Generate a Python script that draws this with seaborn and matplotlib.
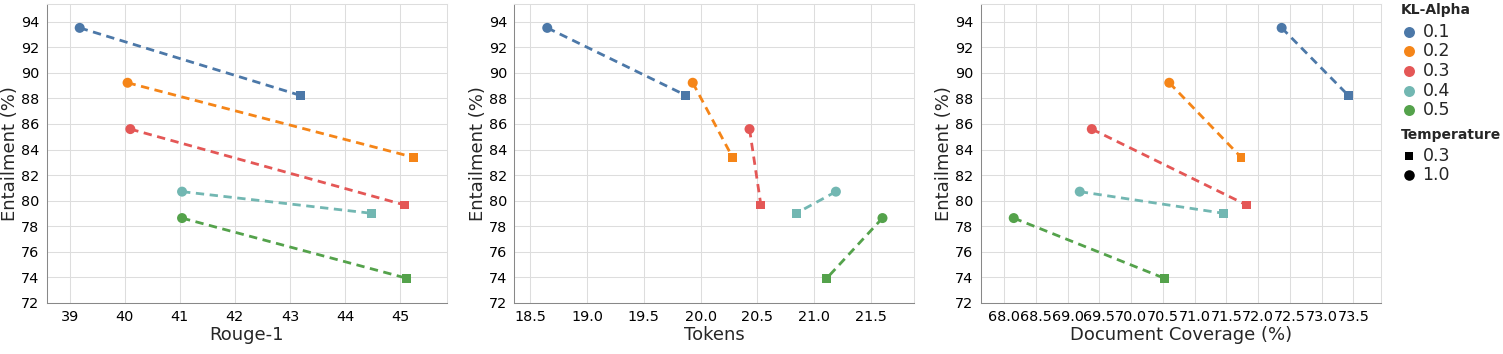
import numpy as np
import pandas as pd
import matplotlib
matplotlib.use("Agg")
import matplotlib.pyplot as plt
from matplotlib.lines import Line2D
import seaborn as sns

# KL-Alpha groups and the two sampling temperatures
kl_alpha = [0.1, 0.2, 0.3, 0.4, 0.5]
temperatures = [1.0, 0.3]

# Entailment (%) per alpha, for temperature 1.0 and 0.3
entail_t10 = [93.53, 89.23, 85.60, 80.70, 78.63]
entail_t03 = [88.24, 83.40, 79.65, 79.00, 73.92]

# x metrics per alpha
rouge_t10 = [39.18, 40.05, 40.10, 41.04, 41.04]
rouge_t03 = [43.19, 45.24, 45.09, 44.49, 45.12]
tokens_t10 = [18.65, 19.93, 20.43, 21.19, 21.60]
tokens_t03 = [19.87, 20.28, 20.53, 20.84, 21.11]
coverage_t10 = [72.37, 70.60, 69.38, 69.19, 68.15]
coverage_t03 = [73.42, 71.73, 71.82, 71.46, 70.52]

y_ticks = list(range(72, 95, 2))
rouge_ticks = [39, 40, 41, 42, 43, 44, 45]
tokens_ticks = [18.5, 19.0, 19.5, 20.0, 20.5, 21.0, 21.5]
coverage_ticks = [68.0, 68.5, 69.0, 69.5, 70.0, 70.5, 71.0, 71.5, 72.0, 72.5, 73.0, 73.5]

palette = {0.1: "#4c78a8", 0.2: "#f58518", 0.3: "#e45756", 0.4: "#72b7b2", 0.5: "#54a24b"}
markers = {0.3: "s", 1.0: "o"}

W, H = 1503.0, 354.0


def build_frame() -> pd.DataFrame:
    rows = []
    for i, a in enumerate(kl_alpha):
        rows.append(dict(alpha=a, temp=1.0, entail=entail_t10[i], rouge=rouge_t10[i],
                         tokens=tokens_t10[i], coverage=coverage_t10[i]))
        rows.append(dict(alpha=a, temp=0.3, entail=entail_t03[i], rouge=rouge_t03[i],
                         tokens=tokens_t03[i], coverage=coverage_t03[i]))
    return pd.DataFrame(rows)


def draw_panel(ax, df, x_col, x_label, ticks, xlim):
    sns.lineplot(data=df, x=x_col, y="entail", hue="alpha", palette=palette,
                 estimator=None, sort=False, legend=False, ax=ax,
                 linewidth=2.0, linestyle=(0, (3, 2)), zorder=2)
    for t in temperatures:
        sub = df[df["temp"] == t]
        sns.scatterplot(data=sub, x=x_col, y="entail", hue="alpha", palette=palette,
                        marker=markers[t], s=52 if t == 1.0 else 40, linewidth=0,
                        legend=False, ax=ax, zorder=3)

    ax.set_xlim(*xlim)
    ax.set_ylim(72, 95.4)
    ax.set_xticks(ticks)
    ax.set_xticklabels([f"{v:g}" if x_col == "rouge" else f"{v:.1f}" for v in ticks])
    ax.set_yticks(y_ticks)
    ax.set_xlabel(x_label, fontsize=13, labelpad=1.5)
    ax.set_ylabel("Entailment (%)", fontsize=13, labelpad=1.5)
    ax.grid(True, color="#dddddd", linewidth=0.75)
    ax.set_axisbelow(True)
    ax.tick_params(axis="both", labelsize=10.4, length=3.6, width=0.75,
                   color="#888888", pad=1.5, labelcolor="black")
    for side in ["left", "bottom"]:
        ax.spines[side].set_color("#888888")
        ax.spines[side].set_linewidth(0.75)
    for side in ["top", "right"]:
        ax.spines[side].set_color("#dddddd")
        ax.spines[side].set_linewidth(0.75)


def fx(px):
    return px / W


def fy(px):
    return 1 - px / H


def legend_block(fig, title, title_base, labels, colors, shapes, sizes, first_y, step):
    fig.text(fx(1401), fy(title_base), title, fontsize=10, fontweight="bold",
             ha="left", va="baseline")
    for i, lab in enumerate(labels):
        y = first_y + step * i
        fig.add_artist(Line2D([fx(1409.3)], [fy(y)], transform=fig.transFigure,
                              marker=shapes[i], markersize=sizes[i], linestyle="",
                              markerfacecolor=colors[i], markeredgewidth=0))
        fig.text(fx(1422.5), fy(y + 5.2), lab, fontsize=12.5, ha="left", va="baseline")


def add_legend(fig):
    legend_block(fig, "KL-Alpha", 14.0, [str(a) for a in kl_alpha],
                 [palette[a] for a in kl_alpha], ["o"] * 5, [7.9] * 5, 31.6, 19.65)
    legend_block(fig, "Temperature", 139.3, ["0.3", "1.0"], ["black", "black"],
                 [markers[0.3], markers[1.0]], [5.5, 7.6], 155.7, 19.5)


def main():
    sns.set_theme(style="white")
    plt.rcParams["font.family"] = ["DejaVu Sans"]

    df = build_frame()

    fig = plt.figure(figsize=(15.03, 3.54), dpi=100)
    bottom = (H - 302.7) / H
    height = 298.7 / H
    lefts = [46.7, 514.3, 980.7]
    axes = [fig.add_axes([l / W, bottom, 400.0 / W, height]) for l in lefts]

    draw_panel(axes[0], df, "rouge", "Rouge-1", rouge_ticks, (38.58, 45.85))
    draw_panel(axes[1], df, "tokens", "Tokens", tokens_ticks, (18.36, 21.88))
    draw_panel(axes[2], df, "coverage", "Document Coverage (%)", coverage_ticks, (67.63, 73.93))

    add_legend(fig)
    fig.savefig("out.png", dpi=100, facecolor="white")


if __name__ == "__main__":
    main()
